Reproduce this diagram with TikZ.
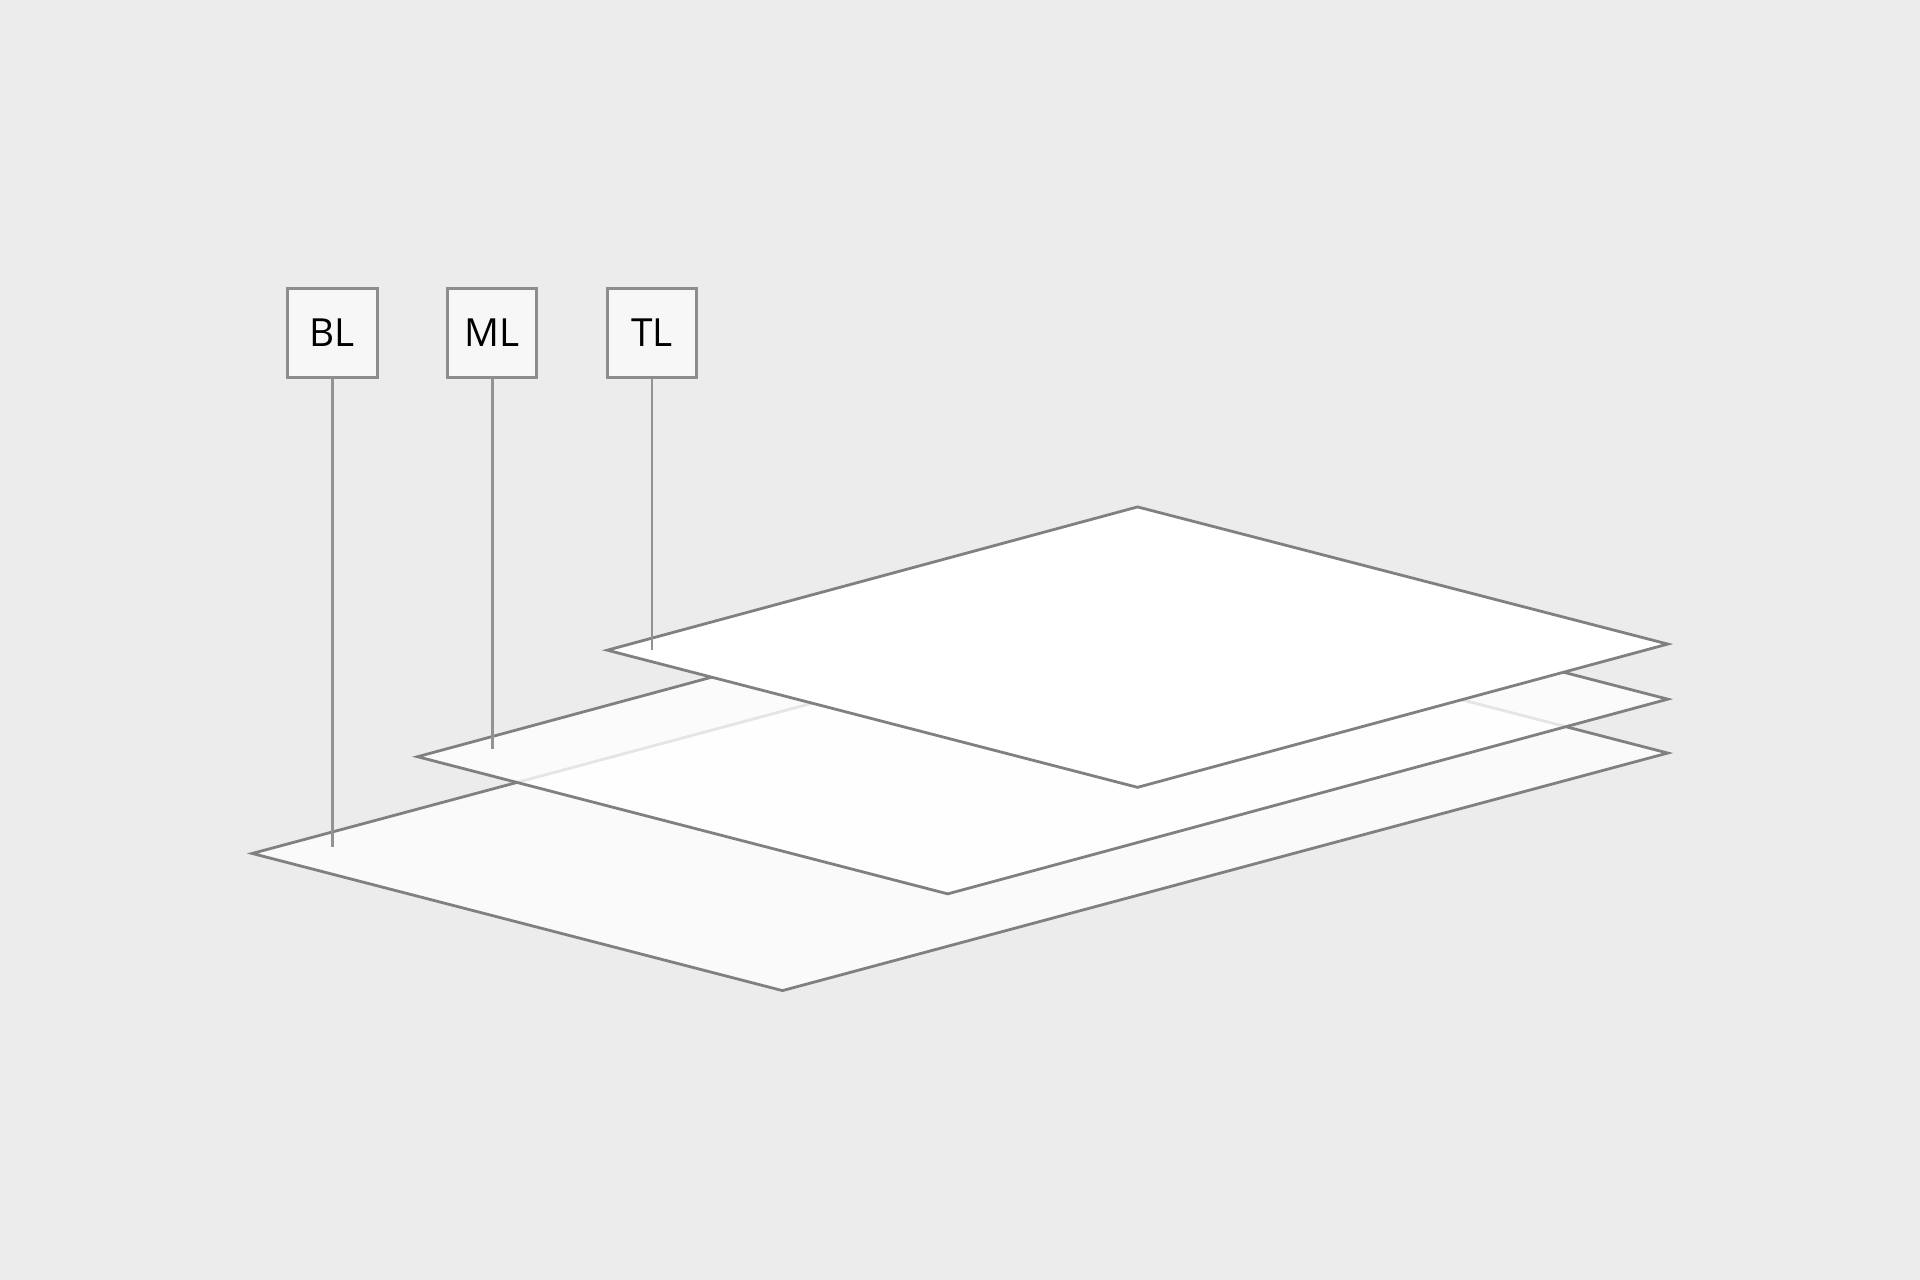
\documentclass[tikz,border=0pt]{standalone}
\usepackage{fontspec}
\setmainfont{Open Sans}
\definecolor{bgc}{HTML}{ECECEC}
\definecolor{edgec}{HTML}{808080}
\definecolor{boxc}{HTML}{F7F7F7}
\definecolor{basec}{HTML}{FAFAFA}
\begin{document}
\begin{tikzpicture}[x=0.1mm,y=-0.1mm,font=\fontsize{9}{11}\selectfont,
		plate/.style={draw=edgec,line width=0.65pt},
		tag/.style={draw=edgec!90,fill=boxc,line width=0.7pt,minimum width=7.3mm,minimum height=7.2mm,inner sep=0pt},
		lead/.style={draw=edgec!85,line width=0.6pt}]
		\fill[bgc] (0,0) rectangle (1568,1045);
		\useasboundingbox (0,0) rectangle (1568,1045);
		% plates, bottom to top
		\draw[plate,fill=basec] (206,697)--(639,809)--(1362,615)--(929,503)--cycle;
		\draw[plate,fill=white,fill opacity=0.8] (341,618)--(774,730)--(1362,571)--(929,459)--cycle;
		\draw[plate,fill=white] (496,531)--(929,643)--(1362,526)--(929,414)--cycle;
		% tags and leaders
		\node[tag] (bl) at (271.5,272) {BL};
		\node[tag] (ml) at (402,272) {ML};
		\node[tag] (tl) at (532.5,272) {TL};
		\coordinate (blend) at (271.5,692);
		\coordinate (mlend) at (402,612);
		\coordinate (tlend) at (532.5,531);
		\draw[lead] (bl)--(blend) (ml)--(mlend) (tl)--(tlend);
\end{tikzpicture}
\end{document}
